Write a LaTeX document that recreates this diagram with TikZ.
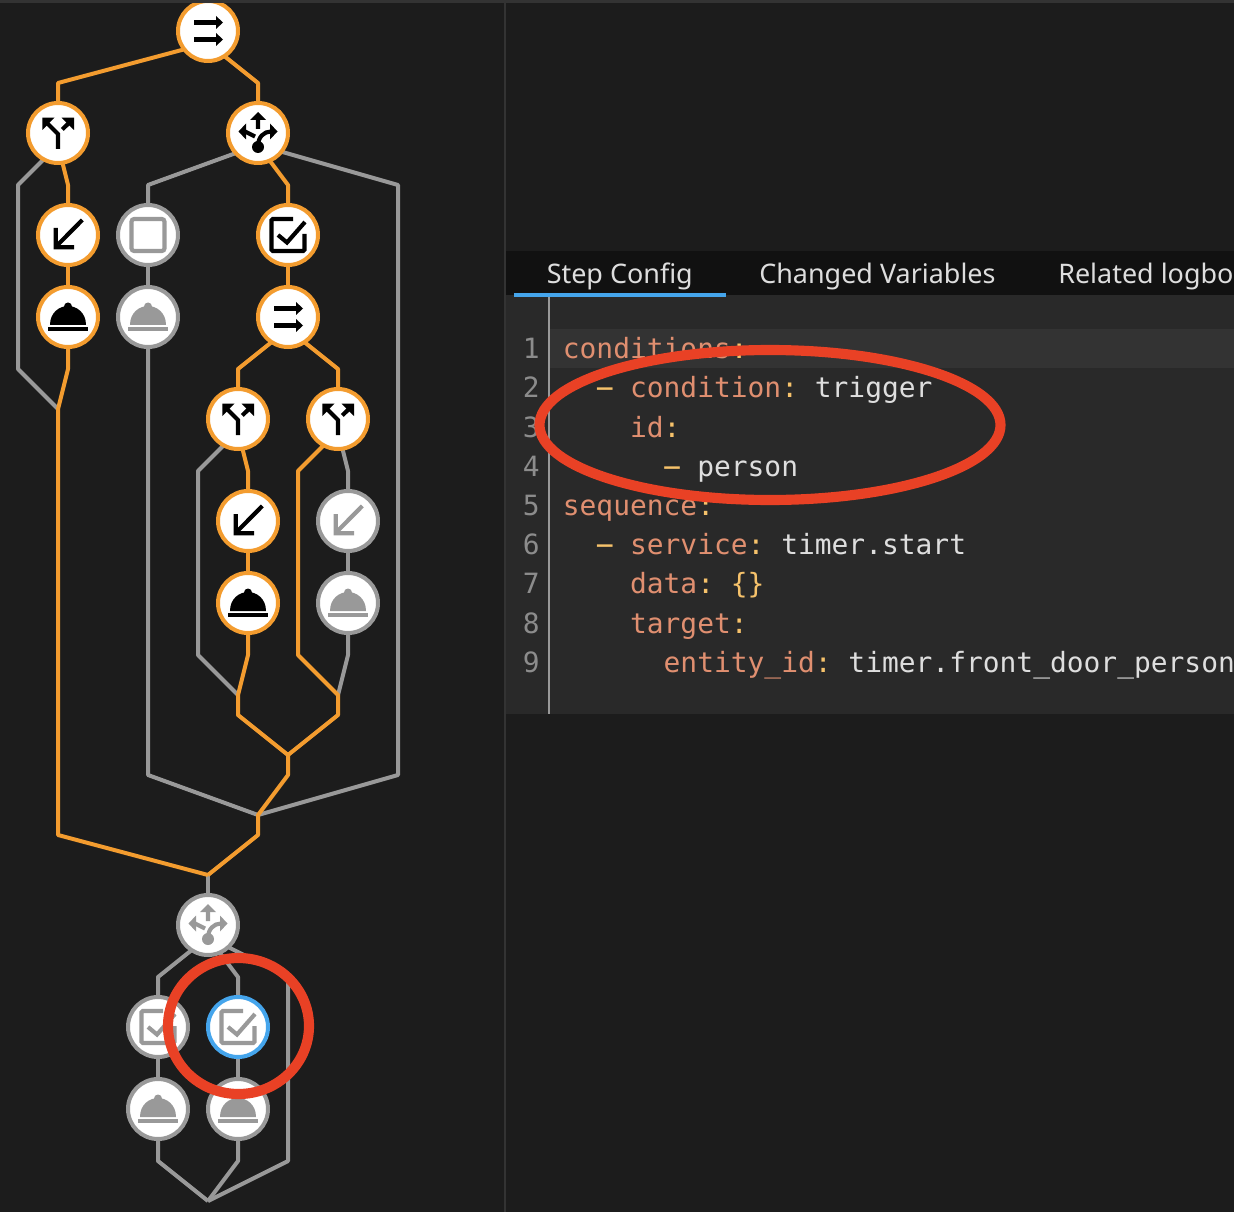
\documentclass[tikz,border=0pt]{standalone}
\usepackage{fontspec}
\usepackage{graphicx}
\usetikzlibrary{backgrounds}
\newfontfamily\codefont{DejaVu Sans Mono}
\newfontfamily\tabfont{Noto Sans}
\definecolor{bgdark}{HTML}{1C1C1C}
\definecolor{topbar}{HTML}{333333}
\definecolor{tabbar}{HTML}{111111}
\definecolor{panel}{HTML}{292929}
\definecolor{hiline}{HTML}{333333}
\definecolor{ora}{HTML}{F39C2F}
\definecolor{gry}{HTML}{999999}
\definecolor{blu}{HTML}{45A5EC}
\definecolor{redm}{HTML}{E94125}
\definecolor{ckey}{HTML}{E08F70}
\definecolor{ccolon}{HTML}{F6C26B}
\definecolor{cval}{HTML}{DEDEDE}
\definecolor{cnum}{HTML}{8C8C8C}
\newcommand{\dashmark}{\textcolor{ccolon}{\makebox[12.6pt][c]{\scalebox{2.2}[1.1]{-}}}}
\tikzset{
  x=0.75pt,y=-0.75pt,
  stepnode/.style={circle,fill=white,draw=#1,line width=3pt,minimum size=45pt,inner sep=0pt},
  wire/.style={draw=#1,line width=3pt,line join=round},
  iconline/.style={draw=#1,line width=3.1pt},
  codeline/.style={anchor=base west,inner sep=0pt,font=\codefont\fontsize{20.93}{25}\selectfont\frenchspacing},
  numline/.style={anchor=base east,inner sep=0pt,text=cnum,font=\codefont\fontsize{20.93}{25}\selectfont},
  tablabel/.style={anchor=base west,inner sep=0pt,text=cval,font=\tabfont\fontsize{20.2}{24}\selectfont},
  mark ring/.style={draw=redm,line width=7.6pt}
}
% icons, drawn around a named node
\newcommand{\icDbl}[2]{\begin{scope}[shift={(#1.center)}]
  \draw[iconline=#2] (-14,-8.5)--(9,-8.5) (-14,8.5)--(9,8.5);
  \fill[#2] (8,-15)--(15,-8.5)--(8,-2)--cycle (8,2)--(15,8.5)--(8,15)--cycle;
\end{scope}}
\newcommand{\icFork}[2]{\begin{scope}[shift={(#1.center)}]
  \draw[iconline=#2] (0,16)--(0,1)--(-12,-11) (4.3,-3.6)--(12.5,-11.5);
  \fill[#2] (-15.7,-15.3)--(-3.5,-15.3)--(-15.7,-3)--cycle (16,-15.3)--(3.5,-15.3)--(16,-3)--cycle;
\end{scope}}
\newcommand{\icDown}[2]{\begin{scope}[shift={(#1.center)}]
  \draw[iconline=#2] (14.3,-15)--(-11,10.5) (-12.3,-7)--(-12.3,12.3)--(6,12.3);
\end{scope}}
\newcommand{\icDome}[2]{\begin{scope}[shift={(#1.center)}]
  \fill[#2] (-18,8) .. controls (-18,-5) and (-8,-11) .. (0,-11) .. controls (8,-11) and (18,-5) .. (18,8) --cycle;
  \fill[#2] (0,-10.5) circle[radius=4];
  \fill[#2] (-20,10) rectangle (20,14);
\end{scope}}
\newcommand{\icCheck}[2]{\begin{scope}[shift={(#1.center)}]
  \draw[iconline=#2,rounded corners=1pt] (5,-16)--(-16.5,-16)--(-16.5,16)--(16.5,16)--(16.5,-1);
  \draw[iconline=#2] (-10,0)--(-1,7.5)--(17,-13);
\end{scope}}
\newcommand{\icSquare}[2]{\begin{scope}[shift={(#1.center)}]
  \draw[iconline=#2,rounded corners=2pt] (-16.5,-16) rectangle (16.5,16);
\end{scope}}
\newcommand{\icBranch}[2]{\begin{scope}[shift={(#1.center)}]
  \fill[#2] (0,-21)--(-8,-13)--(8,-13)--cycle
            (-19.5,-1.5)--(-12,-9.5)--(-12,6.5)--cycle
            (19.5,-1.5)--(12,-9.5)--(12,6.5)--cycle;
  \fill[#2] (0,14) circle[radius=6];
  \draw[iconline=#2] (0,-14)--(0,-4) (-13,-1.5)--(-3,3.5);
  \draw[iconline=#2] (13,-1.5) .. controls (6,-1.5) and (0,4) .. (0,13);
\end{scope}}
\begin{document}
\begin{tikzpicture}
\clip (0,0) rectangle (1234,1212);
\useasboundingbox (0,0) rectangle (1234,1212);
% step nodes
\node[stepnode=ora] (a) at (208,31) {};
\node[stepnode=ora] (b) at (58,133) {};
\node[stepnode=ora] (c) at (258,133) {};
\node[stepnode=ora] (d) at (68,235) {};
\node[stepnode=ora] (e) at (68,317) {};
\node[stepnode=gry] (f) at (148,235) {};
\node[stepnode=gry] (g) at (148,317) {};
\node[stepnode=ora] (h) at (288,235) {};
\node[stepnode=ora] (i) at (288,317) {};
\node[stepnode=ora] (j) at (238,419) {};
\node[stepnode=ora] (k) at (338,419) {};
\node[stepnode=ora] (l) at (248,521) {};
\node[stepnode=ora] (m) at (248,603) {};
\node[stepnode=gry] (n) at (348,521) {};
\node[stepnode=gry] (o) at (348,603) {};
\node[stepnode=gry] (p) at (208,925) {};
\node[stepnode=gry] (q) at (158,1027) {};
\node[stepnode=blu] (r) at (238,1027) {};
\node[stepnode=gry] (s) at (158,1109) {};
\node[stepnode=gry] (t) at (238,1109) {};
\icDbl{a}{black} \icFork{b}{black} \icBranch{c}{black}
\icDown{d}{black} \icDome{e}{black}
\icSquare{f}{gry} \icDome{g}{gry}
\icCheck{h}{black} \icDbl{i}{black}
\icFork{j}{black} \icFork{k}{black}
\icDown{l}{black} \icDome{m}{black}
\icDown{n}{gry} \icDome{o}{gry}
\icBranch{p}{gry} \icCheck{q}{gry} \icCheck{r}{gry}
\icDome{s}{gry} \icDome{t}{gry}
% free ends of connectors
\coordinate (ab) at (58,83); \coordinate (ac) at (258,83);
\coordinate (bl) at (18,185); \coordinate (bl2) at (18,369); \coordinate (bd) at (68,185);
\coordinate (em) at (68,369); \coordinate (jn1) at (58,409); \coordinate (jn2) at (58,835);
\coordinate (cf) at (148,185); \coordinate (ch) at (288,185);
\coordinate (cr) at (398,185); \coordinate (cr2) at (398,775);
\coordinate (gb) at (148,775); \coordinate (mg1) at (258,815); \coordinate (mg2) at (258,835);
\coordinate (pin) at (208,875);
\coordinate (ij) at (238,369); \coordinate (ik) at (338,369);
\coordinate (jl) at (198,471); \coordinate (jl2) at (198,655); \coordinate (jm) at (248,471);
\coordinate (mb) at (248,655); \coordinate (y1) at (238,695); \coordinate (y2) at (238,715);
\coordinate (kl) at (298,471); \coordinate (kl2) at (298,655); \coordinate (kn) at (348,471);
\coordinate (ob) at (348,655); \coordinate (z1) at (338,695); \coordinate (z2) at (338,715);
\coordinate (w1) at (288,755); \coordinate (w2) at (288,775);
\coordinate (pq) at (158,977); \coordinate (pr) at (238,977); \coordinate (pz) at (288,977); \coordinate (pz2) at (288,1161);
\coordinate (sb) at (158,1161); \coordinate (tb) at (238,1161); \coordinate (end) at (208,1201);
\begin{scope}[on background layer]
  \fill[bgdark] (0,0) rectangle (1234,1212);
  % gray connectors first
  \draw[wire=gry] ([yshift=-9pt]b.center)--(bl)--(bl2)--(jn1);
  \draw[wire=gry] ([yshift=-9pt]c.center)--(cf)--(f);
  \draw[wire=gry] (f)--(g);
  \draw[wire=gry] (g)--(gb)--(mg1);
  \draw[wire=gry] ([yshift=-9pt]c.center)--(cr)--(cr2)--(mg1);
  \draw[wire=gry] ([yshift=-9pt]j.center)--(jl)--(jl2)--(y1);
  \draw[wire=gry] ([yshift=-9pt]k.center)--(kn)--(n);
  \draw[wire=gry] (n)--(o);
  \draw[wire=gry] (o)--(ob)--(z1);
  \draw[wire=gry] (pin)--(p);
  \draw[wire=gry] ([yshift=-9pt]p.center)--(pq)--(q);
  \draw[wire=gry] ([yshift=-9pt]p.center)--(pr)--(r);
  \draw[wire=gry] ([yshift=-9pt]p.center)--(pz)--(pz2)--(end);
  \draw[wire=gry] (q)--(s);
  \draw[wire=gry] (r)--(t);
  \draw[wire=gry] (s)--(sb)--(end);
  \draw[wire=gry] (t)--(tb)--(end);
  % orange connectors
  \draw[wire=ora] ([yshift=-9pt]a.center)--(ab)--(b);
  \draw[wire=ora] ([yshift=-9pt]a.center)--(ac)--(c);
  \draw[wire=ora] ([yshift=-9pt]b.center)--(bd)--(d);
  \draw[wire=ora] (d)--(e);
  \draw[wire=ora] (e)--(em)--(jn1)--(jn2)--(pin);
  \draw[wire=ora] ([yshift=-9pt]c.center)--(ch)--(h);
  \draw[wire=ora] (h)--(i);
  \draw[wire=ora] ([yshift=-9pt]i.center)--(ij)--(j);
  \draw[wire=ora] ([yshift=-9pt]i.center)--(ik)--(k);
  \draw[wire=ora] ([yshift=-9pt]j.center)--(jm)--(l);
  \draw[wire=ora] (l)--(m);
  \draw[wire=ora] (m)--(mb)--(y1)--(y2)--(w1);
  \draw[wire=ora] ([yshift=-9pt]k.center)--(kl)--(kl2)--(z1)--(z2)--(w1);
  \draw[wire=ora] (w1)--(w2)--(mg1)--(mg2)--(pin);
\end{scope}
% panels
\fill[topbar] (0,0) rectangle (1234,3.5);
\fill[topbar] (504,3.5) rectangle (506,1212);
\fill[tabbar] (506,251) rectangle (1234,295);
\fill[panel] (506,295) rectangle (1234,714);
\fill[hiline] (550,329) rectangle (1234,368);
\fill[blu] (514,293) rectangle (726,297);
\fill[gry] (548.2,297) rectangle (550,714);
% tabs
\node[tablabel] (t1) at (546.5,284) {Step Config};
\node[tablabel] (t2) at (759,284) {Changed Variables};
\node[tablabel] (t3) at (1058,284) {Related logbook};
% line numbers
\node[numline] (n1) at (540,358.5) {1};
\node[numline] (n2) at (540,397) {2};
\node[numline] (n3) at (540,437) {3};
\node[numline] (n4) at (540,476) {4};
\node[numline] (n5) at (540,515) {5};
\node[numline] (n6) at (540,554) {6};
\node[numline] (n7) at (540,593) {7};
\node[numline] (n8) at (540,633) {8};
\node[numline] (n9) at (540,672) {9};
% code
\node[codeline] (c1) at (562.6,358.5) {\textcolor{ckey}{conditions}\textcolor{ccolon}{:}};
\node[codeline] (c2) at (596.2,397) {\dashmark{} \textcolor{ckey}{condition}\textcolor{ccolon}{:} \textcolor{cval}{trigger}};
\node[codeline] (c3) at (629.8,437) {\textcolor{ckey}{id}\textcolor{ccolon}{:}};
\node[codeline] (c4) at (663.4,476) {\dashmark{} \textcolor{cval}{person}};
\node[codeline] (c5) at (562.6,515) {\textcolor{ckey}{sequence}\textcolor{ccolon}{:}};
\node[codeline] (c6) at (596.2,554) {\dashmark{} \textcolor{ckey}{service}\textcolor{ccolon}{:} \textcolor{cval}{timer.start}};
\node[codeline] (c7) at (629.8,593) {\textcolor{ckey}{data}\textcolor{ccolon}{: \{\}}};
\node[codeline] (c8) at (629.8,633) {\textcolor{ckey}{target}\textcolor{ccolon}{:}};
\node[codeline] (c9) at (663.4,672) {\textcolor{ckey}{entity\_id}\textcolor{ccolon}{:} \textcolor{cval}{timer.front\_door\_person}};
% red annotations
\draw[mark ring] (238.5,1026) ellipse[x radius=70.5,y radius=68];
\draw[mark ring] (770,425) ellipse[x radius=230.5,y radius=75];
\end{tikzpicture}
\end{document}
